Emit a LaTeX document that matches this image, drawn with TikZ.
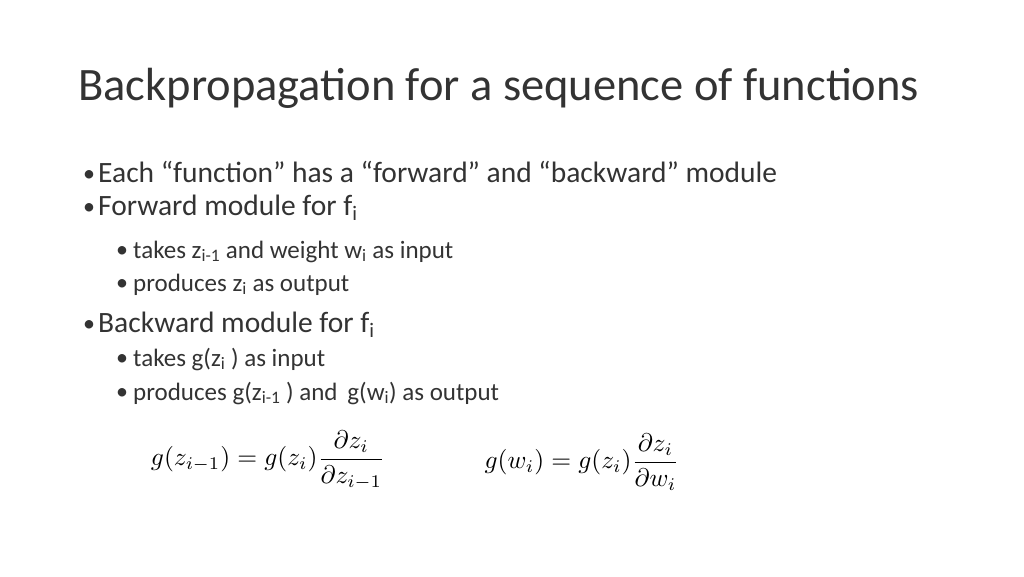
\documentclass[tikz,border=0pt]{standalone}
\usepackage{amsmath}
\usepackage{graphicx}
\usepackage{fontspec}
\setmainfont{Carlito}
\begin{document}
\begin{tikzpicture}[x=1pt,y=-1pt,
  every node/.style={inner sep=0pt,anchor=base west,text=black!80},
  lone/.style={font=\fontsize{29.5}{34}\selectfont},
  ltwo/.style={font=\fontsize{25}{29}\selectfont},
  dot/.style={font=\fontsize{24}{28}\selectfont}]
\useasboundingbox (0,0) rectangle (1024,576);
\node[font=\fontsize{46.5}{52}\selectfont] (title) at (78,100) {Backpropagation for a sequence of functions};
\node[dot] (b1d) at (83,181) {•};
\node[lone] (b1) at (98,182) {Each “function” has a “forward” and “backward” module};
\node[dot] (b2d) at (83,214) {•};
\node[lone] (b2) at (98,215) {Forward module for f\textsubscript{i}};
\node[dot] (s1d) at (116,257) {•};
\node[ltwo] (s1) at (133,258) {takes z\textsubscript{i-1} and weight w\textsubscript{i} as input};
\node[dot] (s2d) at (116,290) {•};
\node[ltwo] (s2) at (133,291) {produces z\textsubscript{i} as output};
\node[dot] (b3d) at (83,331) {•};
\node[lone] (b3) at (98,332) {Backward module for f\textsubscript{i}};
\node[dot] (s3d) at (116,365) {•};
\node[ltwo] (s3) at (133,366) {takes g(z\textsubscript{i} ) as input};
\node[dot] (s4d) at (116,399) {•};
\node[ltwo] (s4) at (133,400) {produces g(z\textsubscript{i-1} ) and\, g(w\textsubscript{i}) as output};
\node[anchor=center,text=black] (e1) at (268,460)
  {\scalebox{2.55}{$g(z_{i-1}) = g(z_i)\dfrac{\partial z_i}{\partial z_{i-1}}$}};
\node[anchor=center,text=black] (e2) at (582,462)
  {\scalebox{2.55}{$g(w_i) = g(z_i)\dfrac{\partial z_i}{\partial w_i}$}};
\end{tikzpicture}
\end{document}
